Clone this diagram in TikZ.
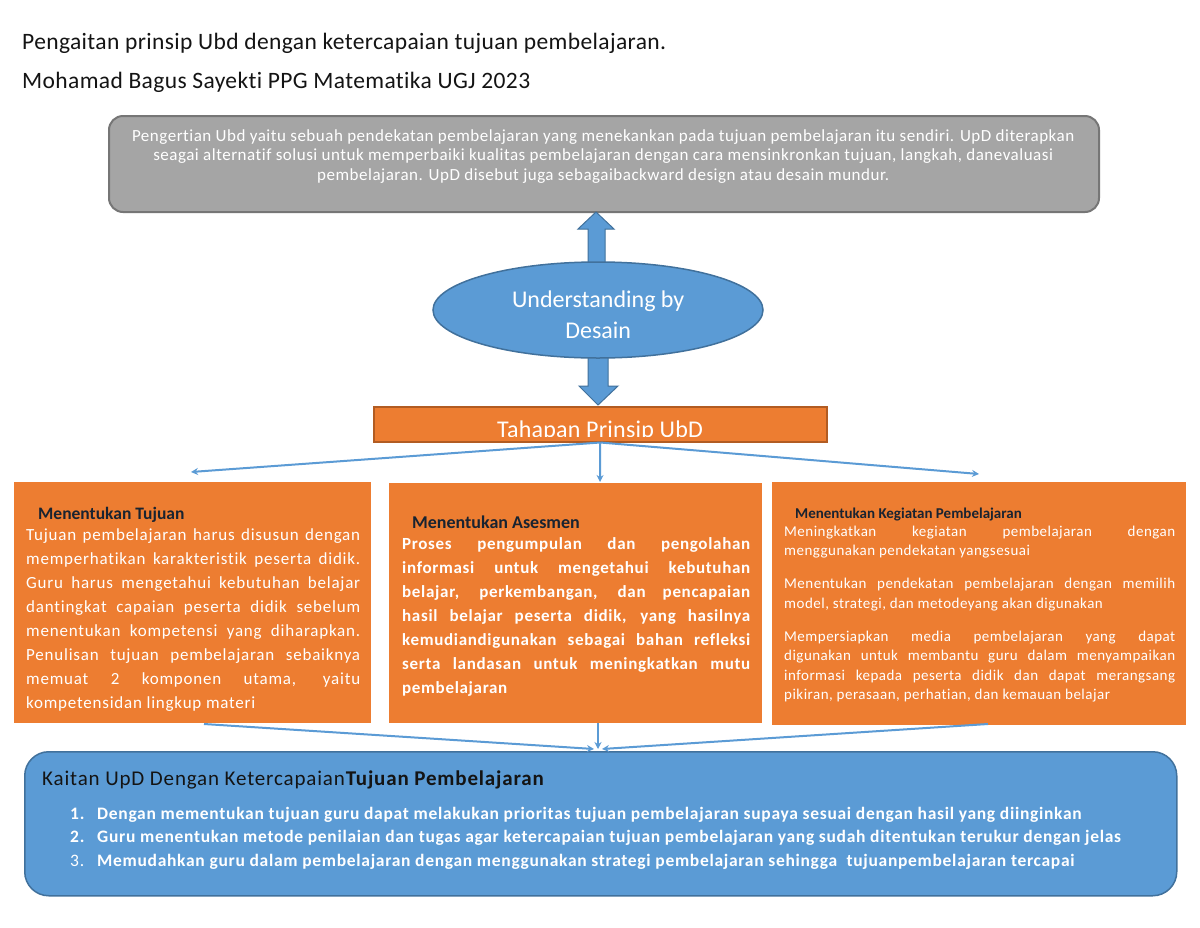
\documentclass[tikz,border=0pt]{standalone}
\usepackage{fontspec}
\setmainfont{Carlito}[Ligatures={NoCommon}]
\usetikzlibrary{shapes.geometric,arrows.meta,calc}
\definecolor{ubdorange}{RGB}{237,125,49}
\definecolor{ubdorangeline}{RGB}{178,92,34}
\definecolor{ubdblue}{RGB}{91,155,213}
\definecolor{ubdblueline}{RGB}{65,113,156}
\definecolor{ubdgray}{RGB}{165,165,165}
\definecolor{ubdgrayline}{RGB}{118,118,118}
\definecolor{ubddark}{RGB}{25,35,48}
\definecolor{ubdtitle}{RGB}{20,20,20}
\newcommand{\fsz}[2]{\fontsize{#1}{#2}\selectfont}
\newcommand{\lsp}[1]{\addfontfeatures{LetterSpace=#1}}
\newcommand{\jline}[2][14pt]{\hbox to \hsize{\vrule height #1 depth 0pt width 0pt #2}}
\newcommand{\lline}[2][14pt]{\hbox to \hsize{\vrule height #1 depth 0pt width 0pt #2\hfil}}
\newcommand{\ctline}[2][14pt]{\hbox to \hsize{\hfil\vrule height #1 depth 0pt width 0pt #2\hfil}}
\newcommand{\textblock}[2]{\vbox{\hsize=#1\relax #2}}
\tikzset{
  boxorange/.style={rectangle, fill=ubdorange, draw=none, inner sep=0pt, anchor=north west},
  bodytext/.style={inner sep=0pt, anchor=north west, text=white},
  boxtitle/.style={inner sep=0pt, anchor=base west, text=ubddark},
  thinarrow/.style={draw=ubdblue, line width=2pt, -{Stealth[length=7pt,width=7pt]}},
  blockarrow/.style={fill=ubdblue, draw=ubdblueline, line width=1pt},
  pagetitle/.style={inner sep=0pt, anchor=base west, text=ubdtitle, font=\fsz{23.5}{28}\lsp{1.6}},
  listtext/.style={inner sep=0pt, anchor=base west, text=white, font=\fsz{17.5}{20}\bfseries\lsp{4}},
}
\begin{document}
\begin{tikzpicture}[x=1pt,y=-1pt]
\path[use as bounding box, fill=white] (0,0) rectangle (1200,927);

% page titles
\node[pagetitle] (title1) at (22,49) {Pengaitan prinsip Ubd dengan ketercapaian tujuan pembelajaran.};
\node[pagetitle] (title2) at (22,88) {Mohamad Bagus Sayekti PPG Matematika UGJ 2023};

% definition box
\node[rectangle, rounded corners=14pt, fill=ubdgray, draw=ubdgrayline, line width=2pt,
      minimum width=990pt, minimum height=96pt, inner sep=0pt, anchor=north west] (def) at (108,115) {};
\node[bodytext, font=\fsz{17}{19.5}\lsp{3}] (deftext) at (108,127) {\textblock{990pt}{%
  \ctline{Pengertian Ubd yaitu sebuah pendekatan pembelajaran yang menekankan pada tujuan pembelajaran itu sendiri. UpD diterapkan}
  \ctline{seagai alternatif solusi untuk memperbaiki kualitas pembelajaran dengan cara mensinkronkan tujuan, langkah, danevaluasi}
  \ctline{pembelajaran. UpD disebut juga sebagaibackward design atau desain mundur.}}};

% block arrows
\draw[blockarrow] (588,268) -- (588,229) -- (578,229) -- (596,212) -- (614,229) -- (605,229) -- (605,268) -- cycle;
\draw[blockarrow] (588,352) -- (588,386) -- (579,386) -- (598,405) -- (618,386) -- (608,386) -- (608,352) -- cycle;

% ellipse
\node[ellipse, fill=ubdblue, draw=ubdblueline, line width=1.5pt, minimum width=330pt, minimum height=96pt, inner sep=0pt] (ubd) at (598,310) {};
\node[bodytext, font=\fsz{24}{31}] (ubdtext) at (433,287) {\textblock{330pt}{%
  \ctline[20pt]{Understanding by}
  \ctline[20pt]{Desain}}};

% stage bar
\node[rectangle, fill=ubdorange, draw=ubdorangeline, line width=1.5pt, minimum width=453pt, minimum height=35pt, inner sep=0pt, anchor=north west] (bar) at (373,406) {};
\begin{scope}
  \clip (373,406) rectangle (826,436);
  \node[inner sep=0pt, anchor=base, text=white, font=\fsz{24}{28}\lsp{1}] (bartext) at (600,437.5) {Tahapan Prinsip UbD};
\end{scope}

% three orange boxes
\node[boxorange, minimum width=357pt, minimum height=241pt] (b1) at (14,482) {};
\node[boxorange, minimum width=373pt, minimum height=240pt] (b2) at (389,483) {};
\node[boxorange, minimum width=414pt, minimum height=243pt] (b3) at (772,482) {};

% connectors from the bar
\coordinate (t1) at (191,472);
\coordinate (t2) at (600,482);
\coordinate (t3) at (979,474);
\draw[thinarrow] (bar.south) -- (t1);
\draw[thinarrow] (bar.south) -- (t2);
\draw[thinarrow] (bar.south) -- (t3);

% box 1
\node[boxtitle, font=\fsz{17.5}{20}\bfseries] (h1) at (38,519) {Menentukan Tujuan};
\node[bodytext, font=\fsz{17}{24}\lsp{4.6}] (p1) at (26,526) {\textblock{334pt}{%
  \jline{Tujuan pembelajaran harus disusun dengan}
  \jline{memperhatikan karakteristik peserta didik.}
  \jline{Guru harus mengetahui kebutuhan belajar}
  \jline{dantingkat capaian peserta didik sebelum}
  \jline{menentukan kompetensi yang diharapkan.}
  \jline{Penulisan tujuan pembelajaran sebaiknya}
  \jline{memuat 2 komponen utama, yaitu}
  \lline{kompetensidan lingkup materi}}};

% box 2
\node[boxtitle, font=\fsz{18}{20}\bfseries] (h2) at (412,528) {Menentukan Asesmen};
\node[bodytext, font=\fsz{17}{24}\bfseries\lsp{4}] (p2) at (402,535) {\textblock{348pt}{%
  \jline{Proses pengumpulan dan pengolahan}
  \jline{informasi untuk mengetahui kebutuhan}
  \jline{belajar, perkembangan, dan pencapaian}
  \jline{hasil belajar peserta didik, yang hasilnya}
  \jline{kemudiandigunakan sebagai bahan refleksi}
  \jline{serta landasan untuk meningkatkan mutu}
  \lline{pembelajaran}}};

% box 3
\node[boxtitle, font=\fsz{15}{18}\bfseries] (h3) at (795,518) {Menentukan Kegiatan Pembelajaran};
\node[bodytext, font=\fsz{15}{19.5}\lsp{3.2}] (p3) at (784,523) {\textblock{391pt}{%
  \jline[13pt]{Meningkatkan kegiatan pembelajaran dengan}
  \lline[13pt]{menggunakan pendekatan yangsesuai}
  \vskip 13.5pt
  \jline[13pt]{Menentukan pendekatan pembelajaran dengan memilih}
  \lline[13pt]{model, strategi, dan metodeyang akan digunakan}
  \vskip 13.5pt
  \jline[13pt]{Mempersiapkan media pembelajaran yang dapat}
  \jline[13pt]{digunakan untuk membantu guru dalam menyampaikan}
  \jline[13pt]{informasi kepada peserta didik dan dapat merangsang}
  \lline[13pt]{pikiran, perasaan, perhatian, dan kemauan belajar}}};

% bottom box
\node[rectangle, rounded corners=24pt, fill=ubdblue, draw=ubdblueline, line width=1.5pt,
      minimum width=1152pt, minimum height=144pt, inner sep=0pt, anchor=north west] (kait) at (24,751) {};

% connectors into the bottom box
\coordinate (s1) at (204,724);
\coordinate (s2) at (598,723);
\coordinate (s3) at (988,724);
\coordinate (e1) at (594,749);
\coordinate (e2) at (598,749);
\coordinate (e3) at (602,749);
\draw[thinarrow] (s1) -- (e1);
\draw[thinarrow] (s2) -- (e2);
\draw[thinarrow] (s3) -- (e3);

\node[inner sep=0pt, anchor=base west, text=ubdtitle, font=\fsz{21}{24}\lsp{4}] (ktitle) at (42,785)
  {Kaitan UpD Dengan Ketercapaian\textbf{Tujuan Pembelajaran}};
\node[listtext] (n1) at (70,819) {1.};
\node[listtext] (i1) at (97,819) {Dengan mementukan tujuan guru dapat melakukan prioritas tujuan pembelajaran supaya sesuai dengan hasil yang diinginkan};
\node[listtext] (n2) at (70,842) {2.};
\node[listtext] (i2) at (97,842) {Guru menentukan metode penilaian dan tugas agar ketercapaian tujuan pembelajaran yang sudah ditentukan terukur dengan jelas};
\node[listtext, font=\fsz{17.5}{20}\mdseries\lsp{4}] (n3) at (70,866) {3.};
\node[listtext] (i3) at (97,866) {Memudahkan guru dalam pembelajaran dengan menggunakan strategi pembelajaran sehingga \ tujuanpembelajaran tercapai};
\end{tikzpicture}
\end{document}
